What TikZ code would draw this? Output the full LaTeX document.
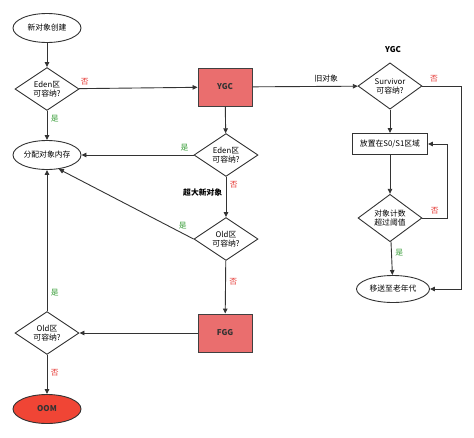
\documentclass[tikz,border=0pt]{standalone}
\usepackage{fontspec}
\setmainfont{Noto Sans CJK SC}
\usetikzlibrary{shapes.geometric,arrows.meta}
\definecolor{gcred}{HTML}{EA6E6E}
\definecolor{oomred}{HTML}{F04535}
\definecolor{nored}{HTML}{E53935}
\definecolor{yesgreen}{HTML}{3A9E3A}
\begin{document}
\begin{tikzpicture}[x=1pt,y=-1pt,
    font=\fontsize{7.8}{9}\selectfont, line width=0.9pt, draw=black!80,
    arr/.style={-{Triangle[length=5pt,width=4.5pt]}},
    oval/.style={ellipse, draw, minimum width=68, minimum height=29, inner sep=0pt},
    choice/.style={diamond, draw, minimum width=64, minimum height=42, inner sep=0pt, align=center},
    gcbox/.style={rectangle, draw=black!75, fill=gcred, minimum width=54, minimum height=38, font=\fontsize{8}{9.5}\selectfont\bfseries, text=black!80},
    plainbox/.style={rectangle, draw, minimum width=75, minimum height=21},
    yes/.style={text=yesgreen},
    no/.style={text=nored}]
    \useasboundingbox (0,0) rectangle (474,437);
    % left column
    \node[oval] (new) at (47,28) {新对象创建};
    \node[choice] (eden1) at (47,89) {Eden区\\可容纳?};
    \node[oval] (alloc) at (47,155) {分配对象内存};
    \node[choice] (old2) at (47,333) {Old区\\可容纳?};
    \node[oval, fill=oomred, font=\fontsize{8}{9.5}\selectfont\bfseries, text=black!80] (oom) at (47,409) {OOM};
    % middle column
    \node[gcbox] (ygc) at (225,87) {YGC};
    \node[choice] (eden2) at (226,155) {Eden区\\可容纳?};
    \node[choice] (old1) at (226,239) {Old区\\可容纳?};
    \node[gcbox] (fgc) at (225,333) {FGG};
    % right column
    \node[font=\fontsize{8}{9.5}\selectfont\bfseries] (ygclabel) at (393,50) {YGC};
    \node[choice] (surv) at (390,86) {Survivor\\可容纳?};
    \node[plainbox] (s0s1) at (390,144) {放置在S0/S1区域};
    \node[choice] (age) at (390,218) {对象计数\\超过阈值};
    \node[oval, minimum width=73, minimum height=27] (tenure) at (393,289) {移送至老年代};
    \coordinate (survr) at (461,86);
    \coordinate (tenr) at (461,289);
    \coordinate (ager) at (447,218);
    \coordinate (s0r) at (447,144);

    % connectors
    \draw[arr] (new) -- (eden1);
    \draw[arr] (eden1) -- node[pos=0.05, above, no] {否} (ygc);
    \draw[arr] (eden1) -- node[pos=0.25, right, yes] {是} (alloc);
    \draw[arr] (ygc) -- (eden2);
    \draw[arr] (eden2) -- node[pos=0.08, above, yes] {是} (alloc);
    \draw[arr] (eden2) -- node[pos=0.2, right, no] {否}
        node[pos=0.38, left, font=\fontsize{7.8}{9}\selectfont\bfseries] {超大新对象} (old1);
    \draw[arr] (old1.west) -- node[pos=0.08, above, yes] {是} (alloc.-50);
    \draw[arr] (old1) -- node[pos=0.4, right, no] {否} (fgc);
    \draw[arr] (fgc) -- (old2);
    \draw[arr] (old2) -- node[pos=0.13, right, yes] {是} (alloc);
    \draw[arr] (old2) -- node[pos=0.45, right, no] {否} (oom);
    \draw[arr] (ygc) -- node[pos=0.7, above] {旧对象} (surv);
    \draw[arr] (surv) -- (s0s1);
    \draw[arr] (s0s1) -- (age);
    \draw[arr] (age) -- node[pos=0.35, right, yes] {是} (tenure);
    \draw[arr] (surv.east) -- node[pos=0.3, above, no] {否} (survr) -- (tenr) -- (tenure.east);
    \draw[arr] (age.east) -- node[pos=0.5, above, no] {否} (ager) -- (s0r) -- (s0s1.east);
\end{tikzpicture}
\end{document}
